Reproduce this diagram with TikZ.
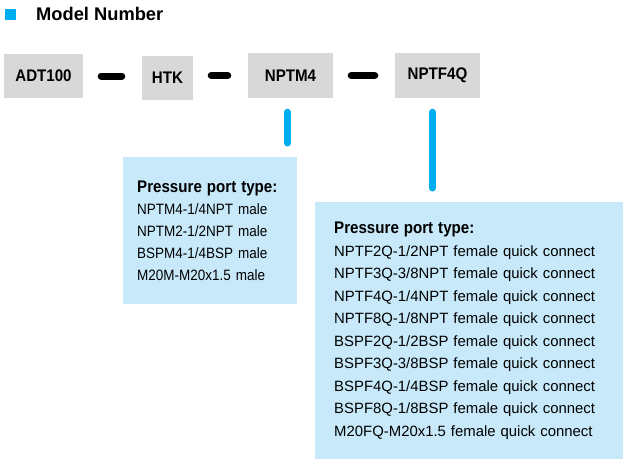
\documentclass[tikz,border=0pt]{standalone}
\usepackage{fontspec}
\setmainfont{Liberation Sans}
\newfontfamily\narrowfont[FakeStretch=0.9]{Liberation Sans}
\definecolor{boxgray}{HTML}{D8D8D8}
\definecolor{portblue}{HTML}{C7E9F9}
\definecolor{linkblue}{HTML}{00AEEF}

\begin{document}
\begin{tikzpicture}[x=1pt, y=-1pt,
  codebox/.style={fill=boxgray, inner sep=0pt, font=\narrowfont\fontsize{16.8}{18}\selectfont\bfseries},
  dashlink/.style={line width=7pt, line cap=round, shorten <=18pt, shorten >=20pt},
  portlink/.style={linkblue, line width=7pt, line cap=round, shorten <=14pt, shorten >=14pt},
  portbox/.style={fill=portblue, anchor=north west, align=left, inner ysep=0pt}]
\useasboundingbox (0,0) rectangle (628,463);
\node[fill=linkblue, minimum size=11pt, inner sep=0pt] (bullet) at (10,14.5) {};
\node[anchor=west, inner sep=0pt, font=\fontsize{18.3}{20}\selectfont\bfseries] (heading) at (36,14) {Model Number};
% code row
\node[codebox, minimum width=79pt, minimum height=44pt] (adt) at (43.5,76) {ADT100};
\node[codebox, minimum width=51pt, minimum height=44pt] (htk) at (167.5,78) {HTK};
\node[codebox, minimum width=85pt, minimum height=45pt] (nptm) at (290.5,75.5) {NPTM4};
\node[codebox, minimum width=85pt, minimum height=45pt] (nptf) at (437.5,75.5) {NPTF4Q};
\draw[dashlink] (adt.east) -- (adt.east -| htk.west);
\draw[dashlink] (nptm.west -| htk.east) -- (nptm.west);
\draw[dashlink] (nptm.east) -- (nptf.west);
% option boxes
\node[portbox, inner xsep=14pt, text width=146pt, minimum height=147pt,
  font=\narrowfont\fontsize{15}{22}\selectfont] (ptm) at (123,157)
  {{\fontsize{16.8}{22}\selectfont\bfseries Pressure port type:}\\
   NPTM4-1/4NPT male\\
   NPTM2-1/2NPT male\\
   BSPM4-1/4BSP male\\
   M20M-M20x1.5 male};
\node[portbox, inner xsep=19pt, text width=270pt, minimum height=257pt,
  font=\fontsize{14.9}{22.5}\selectfont] (ptf) at (315,202)
  {{\narrowfont\fontsize{16.8}{22.5}\selectfont\bfseries Pressure port type:}\\
   NPTF2Q-1/2NPT female quick connect\\
   NPTF3Q-3/8NPT female quick connect\\
   NPTF4Q-1/4NPT female quick connect\\
   NPTF8Q-1/8NPT female quick connect\\
   BSPF2Q-1/2BSP female quick connect\\
   BSPF3Q-3/8BSP female quick connect\\
   BSPF4Q-1/4BSP female quick connect\\
   BSPF8Q-1/8BSP female quick connect\\
   M20FQ-M20x1.5 female quick connect};
\draw[portlink] ([xshift=-3pt]nptm.south) -- ([xshift=-3pt]nptm.south |- ptm.north);
\draw[portlink] ([xshift=-5pt]nptf.south) -- ([xshift=-5pt]nptf.south |- ptf.north);
\end{tikzpicture}
\end{document}
